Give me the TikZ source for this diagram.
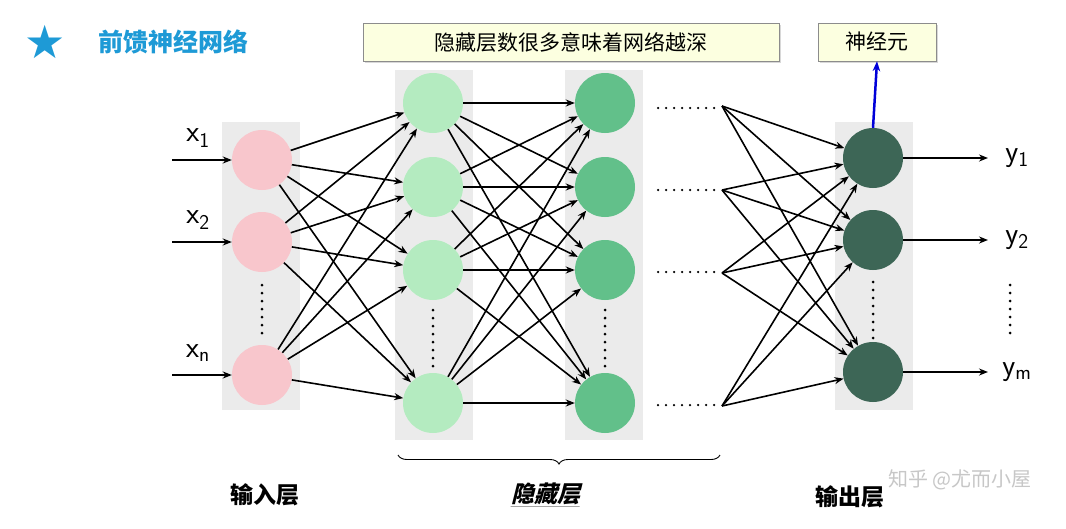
\documentclass[tikz,border=0pt]{standalone}
\usepackage{fontspec}
\setmainfont{Noto Sans CJK SC}
\newfontfamily\djv{DejaVu Sans}
\usetikzlibrary{arrows.meta,decorations.pathreplacing,shadows}
\definecolor{hA}{HTML}{B4EBC0}
\definecolor{hB}{HTML}{62C08A}
\definecolor{oC}{HTML}{3D6656}
\definecolor{iC}{HTML}{F8C6CC}
\definecolor{tC}{HTML}{1E9AD6}
\begin{document}
\begin{tikzpicture}[x=1pt,y=-1pt,
 col/.style={fill=black!8,draw=none},
 neu/.style={circle,minimum size=60pt,inner sep=0},
 edge/.style={-{Stealth[length=9pt,width=7pt]},line width=1.6pt},
 lbl/.style={font=\fontsize{30}{32}\selectfont\sffamily},
 tbox/.style={draw=black!45,fill=green!10!yellow!12,minimum height=38pt,font=\fontsize{21}{23}\selectfont,drop shadow={shadow xshift=2pt,shadow yshift=-2pt,opacity=.3}},
 vd/.style={line width=3pt,line cap=round,dash pattern=on 0pt off 8pt},
 hd/.style={line width=2.5pt,dash pattern=on 0pt off 8pt,line cap=round}]
\useasboundingbox (0,0) rectangle (1066,528);
\fill[white] (0,0) rectangle (1066,528);
\node[text=tC] (star) at (45,42) {\djv\fontsize{46}{46}\selectfont ★};
\node[anchor=west,text=tC,font=\fontsize{25}{27}\selectfont\bfseries] (title) at (95,42) {前馈神经网络};
\node[tbox,minimum width=416pt] (tip) at (571,42) {隐藏层数很多意味着网络越深};
\node[tbox,minimum width=118pt] (neuron) at (877,42) {神经元};
\fill[col] (222,122) rectangle (300,410);
\fill[col] (395,70) rectangle (473,440);
\fill[col] (565,70) rectangle (643,440);
\fill[col] (835,122) rectangle (913,410);
\foreach \n/\y in {1/160,2/242,n/375}{\node[neu,fill=iC] (i\n) at (262,\y) {};}
\foreach \n/\y in {1/103,2/187,3/270,4/403}{\node[neu,fill=hA] (a\n) at (433,\y) {};
 \node[neu,fill=hB] (b\n) at (605,\y) {};
 \coordinate (d\n) at (722,\y+3);}
\foreach \n/\y in {1/158,2/240,m/372}{\node[neu,fill=oC] (o\n) at (873,\y) {};}
\draw[vd] (262,285)--(262,340);
\draw[vd] (433,310)--(433,368);
\draw[vd] (605,310)--(605,368);
\draw[vd] (873,282)--(873,338);
\draw[vd] (1010,285)--(1010,338);
\foreach \y in {108,190,272,405}{\draw[hd] (658,\y)--(715,\y);}
\foreach \i in {1,2,n}{\foreach \j in {1,2,3,4}{\draw[edge] (i\i) -- (a\j);}}
\foreach \i in {1,2,3,4}{\foreach \j in {1,2,3,4}{\draw[edge] (a\i) -- (b\j);}}
\foreach \i in {1,2,3,4}{\foreach \j in {1,2,m}{\draw[edge] (d\i) -- (o\j);}}
\foreach \n/\y/\t in {1/160/1,2/242/2,n/375/n}{
 \coordinate (s\n) at (172,\y);
 \draw[edge] (s\n) -- (i\n.west);
 \node[lbl] (xl\n) at (198,\y-22) {x\textsubscript{\t}};}
\foreach \n/\y in {1/158,2/240,m/372}{
 \coordinate (e\n) at (988,\y);
 \draw[edge] (o\n.east) -- (e\n);
 \node[lbl] (yl\n) at (1017,\y) {y\textsubscript{\n}};}
\draw[-{Stealth[length=10pt]},line width=2.5pt,blue!85!black] (o1.north) -- (neuron.south);
\draw[decorate,decoration={brace,mirror,amplitude=9pt},line width=0.9pt] (398,455) -- (720,455);
\node[font=\fontsize{23}{25}\selectfont\bfseries] (l1) at (265,495) {输入层};
\node[font=\fontsize{23}{25}\selectfont\bfseries,xslant=0.25] (l2) at (548,495) {\underline{隐藏层}};
\node[font=\fontsize{23}{25}\selectfont\bfseries] (l3) at (850,497) {输出层};
\node[text=black!22,font=\fontsize{20}{22}\selectfont] (wm) at (960,480) {知乎 @尤而小屋};
\end{tikzpicture}
\end{document}
